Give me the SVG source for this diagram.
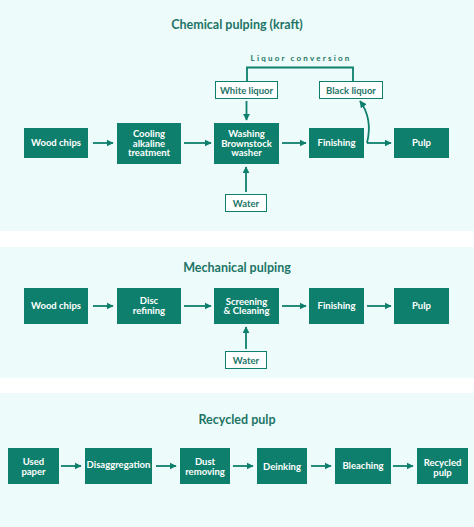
<svg xmlns="http://www.w3.org/2000/svg" width="474" height="527" viewBox="0 0 474 527">
  <style>
    .panel { fill: #edfcfb; }
    .title { font-family: Lato, "Noto Sans", sans-serif; font-weight: 700; font-size: 12.5px; fill: #1d7466; text-anchor: middle; }
    .box { fill: #0f7f6d; }
    .obox { fill: #ffffff; stroke: #0f7f6d; stroke-width: 1; }
    .lbl { font-family: Lato, "Noto Sans", sans-serif; font-weight: 700; font-size: 9.5px; fill: #ffffff; text-anchor: middle; }
    .olbl { font-family: Lato, "Noto Sans", sans-serif; font-weight: 700; font-size: 9.5px; fill: #1d7466; text-anchor: middle; }
    .conv { font-family: Lato, "Noto Sans", sans-serif; font-weight: 700; font-size: 8px; fill: #1d7466; text-anchor: middle; letter-spacing: 2.2px; }
    .edge { fill: none; stroke: #0f7f6d; stroke-width: 1.8; }
  </style>
  <defs>
    <marker id="arrow" viewBox="0 0 10 10" refX="9" refY="5" markerWidth="4" markerHeight="4" orient="auto" markerUnits="strokeWidth">
      <path d="M0,0 L10,5 L0,10 Z" fill="#0f7f6d"/>
    </marker>
  </defs>
  <rect width="474" height="527" fill="#ffffff"/>
  <rect class="panel" x="0" y="0" width="474" height="231"/>
  <rect class="panel" x="0" y="247" width="474" height="131"/>
  <rect class="panel" x="0" y="393" width="474" height="134"/>

  <text class="title" x="237" y="28.5">Chemical pulping (kraft)</text>
  <text class="title" x="237" y="271.5">Mechanical pulping</text>
  <text class="title" x="237" y="423.5">Recycled pulp</text>

  <!-- Chemical pulping -->
  <g id="c-wood"><rect class="box" x="24" y="128" width="64" height="30"/><text class="lbl" x="56" y="146">Wood chips</text></g>
  <g id="c-cooling"><rect class="box" x="117" y="123" width="64" height="41"/><text class="lbl" x="149"><tspan x="149" y="137">Cooling</tspan><tspan x="149" y="146.5">alkaline</tspan><tspan x="149" y="156">treatment</tspan></text></g>
  <g id="c-washing"><rect class="box" x="214" y="123" width="65" height="41"/><text class="lbl" x="246.5"><tspan x="246.5" y="137">Washing</tspan><tspan x="246.5" y="146.5">Brownstock</tspan><tspan x="246.5" y="156">washer</tspan></text></g>
  <g id="c-finishing"><rect class="box" x="309" y="128" width="55" height="30"/><text class="lbl" x="336.5" y="146">Finishing</text></g>
  <g id="c-pulp"><rect class="box" x="394" y="128" width="55" height="30"/><text class="lbl" x="421.5" y="146">Pulp</text></g>
  <g id="c-white"><rect class="obox" x="215.5" y="81.5" width="62" height="17"/><text class="olbl" x="246.5" y="93.5">White liquor</text></g>
  <g id="c-black"><rect class="obox" x="319.5" y="81.5" width="63" height="17"/><text class="olbl" x="351" y="93.5">Black liquor</text></g>
  <g id="c-water"><rect class="obox" x="225.5" y="194.5" width="41" height="17"/><text class="olbl" x="246" y="206.5">Water</text></g>
  <text class="conv" x="301" y="61">Liquor conversion</text>

  <!-- Mechanical pulping -->
  <g id="m-wood"><rect class="box" x="24" y="288" width="64" height="36"/><text class="lbl" x="56" y="309">Wood chips</text></g>
  <g id="m-disc"><rect class="box" x="117" y="288" width="64" height="36"/><text class="lbl" x="149"><tspan x="149" y="304">Disc</tspan><tspan x="149" y="313.5">refining</tspan></text></g>
  <g id="m-screen"><rect class="box" x="214" y="288" width="65" height="36"/><text class="lbl" x="246.5"><tspan x="246.5" y="304.5">Screening</tspan><tspan x="246.5" y="314">&amp; Cleaning</tspan></text></g>
  <g id="m-finishing"><rect class="box" x="309" y="288" width="55" height="36"/><text class="lbl" x="336.5" y="309">Finishing</text></g>
  <g id="m-pulp"><rect class="box" x="394" y="288" width="55" height="36"/><text class="lbl" x="421.5" y="309">Pulp</text></g>
  <g id="m-water"><rect class="obox" x="225.5" y="351.5" width="41" height="17"/><text class="olbl" x="246" y="363.5">Water</text></g>

  <!-- Recycled pulp -->
  <g id="r-used"><rect class="box" x="8" y="448" width="51" height="36"/><text class="lbl" x="33.5"><tspan x="33.5" y="465">Used</tspan><tspan x="33.5" y="475">paper</tspan></text></g>
  <g id="r-disagg"><rect class="box" x="85" y="448" width="67" height="36"/><text class="lbl" x="118.5" y="468">Disaggregation</text></g>
  <g id="r-dust"><rect class="box" x="180" y="448" width="50" height="36"/><text class="lbl" x="205"><tspan x="205" y="464.5">Dust</tspan><tspan x="205" y="474.5">removing</tspan></text></g>
  <g id="r-deink"><rect class="box" x="257" y="448" width="50" height="36"/><text class="lbl" x="282" y="470">Deinking</text></g>
  <g id="r-bleach"><rect class="box" x="335" y="448" width="56" height="36"/><text class="lbl" x="363" y="469">Bleaching</text></g>
  <g id="r-recycled"><rect class="box" x="417" y="448" width="51" height="36"/><text class="lbl" x="442.5"><tspan x="442.5" y="466">Recycled</tspan><tspan x="442.5" y="476">pulp</tspan></text></g>

  <g id="connectors">
    <path class="edge" marker-end="url(#arrow)" d="M93,143 H113"/>
    <path class="edge" marker-end="url(#arrow)" d="M184,143 H211"/>
    <path class="edge" marker-end="url(#arrow)" d="M282,143 H306"/>
    <path class="edge" marker-end="url(#arrow)" d="M367,143 H391"/>
    <path class="edge" marker-end="url(#arrow)" d="M367,143 Q373,119 360,101"/>
    <path class="edge" marker-end="url(#arrow)" d="M246.5,101 V120"/>
    <path class="edge" marker-end="url(#arrow)" d="M246,192 V167"/>
    <path class="edge" d="M247,81 V67.5 H353 V81"/>

    <path class="edge" marker-end="url(#arrow)" d="M93,306 H113"/>
    <path class="edge" marker-end="url(#arrow)" d="M184,306 H211"/>
    <path class="edge" marker-end="url(#arrow)" d="M282,306 H306"/>
    <path class="edge" marker-end="url(#arrow)" d="M367,306 H391"/>
    <path class="edge" marker-end="url(#arrow)" d="M246,349 V327"/>

    <path class="edge" marker-end="url(#arrow)" d="M61,466 H81"/>
    <path class="edge" marker-end="url(#arrow)" d="M156,466 H176"/>
    <path class="edge" marker-end="url(#arrow)" d="M233,466 H253"/>
    <path class="edge" marker-end="url(#arrow)" d="M311,466 H331"/>
    <path class="edge" marker-end="url(#arrow)" d="M393,466 H413"/>
  </g>
</svg>
